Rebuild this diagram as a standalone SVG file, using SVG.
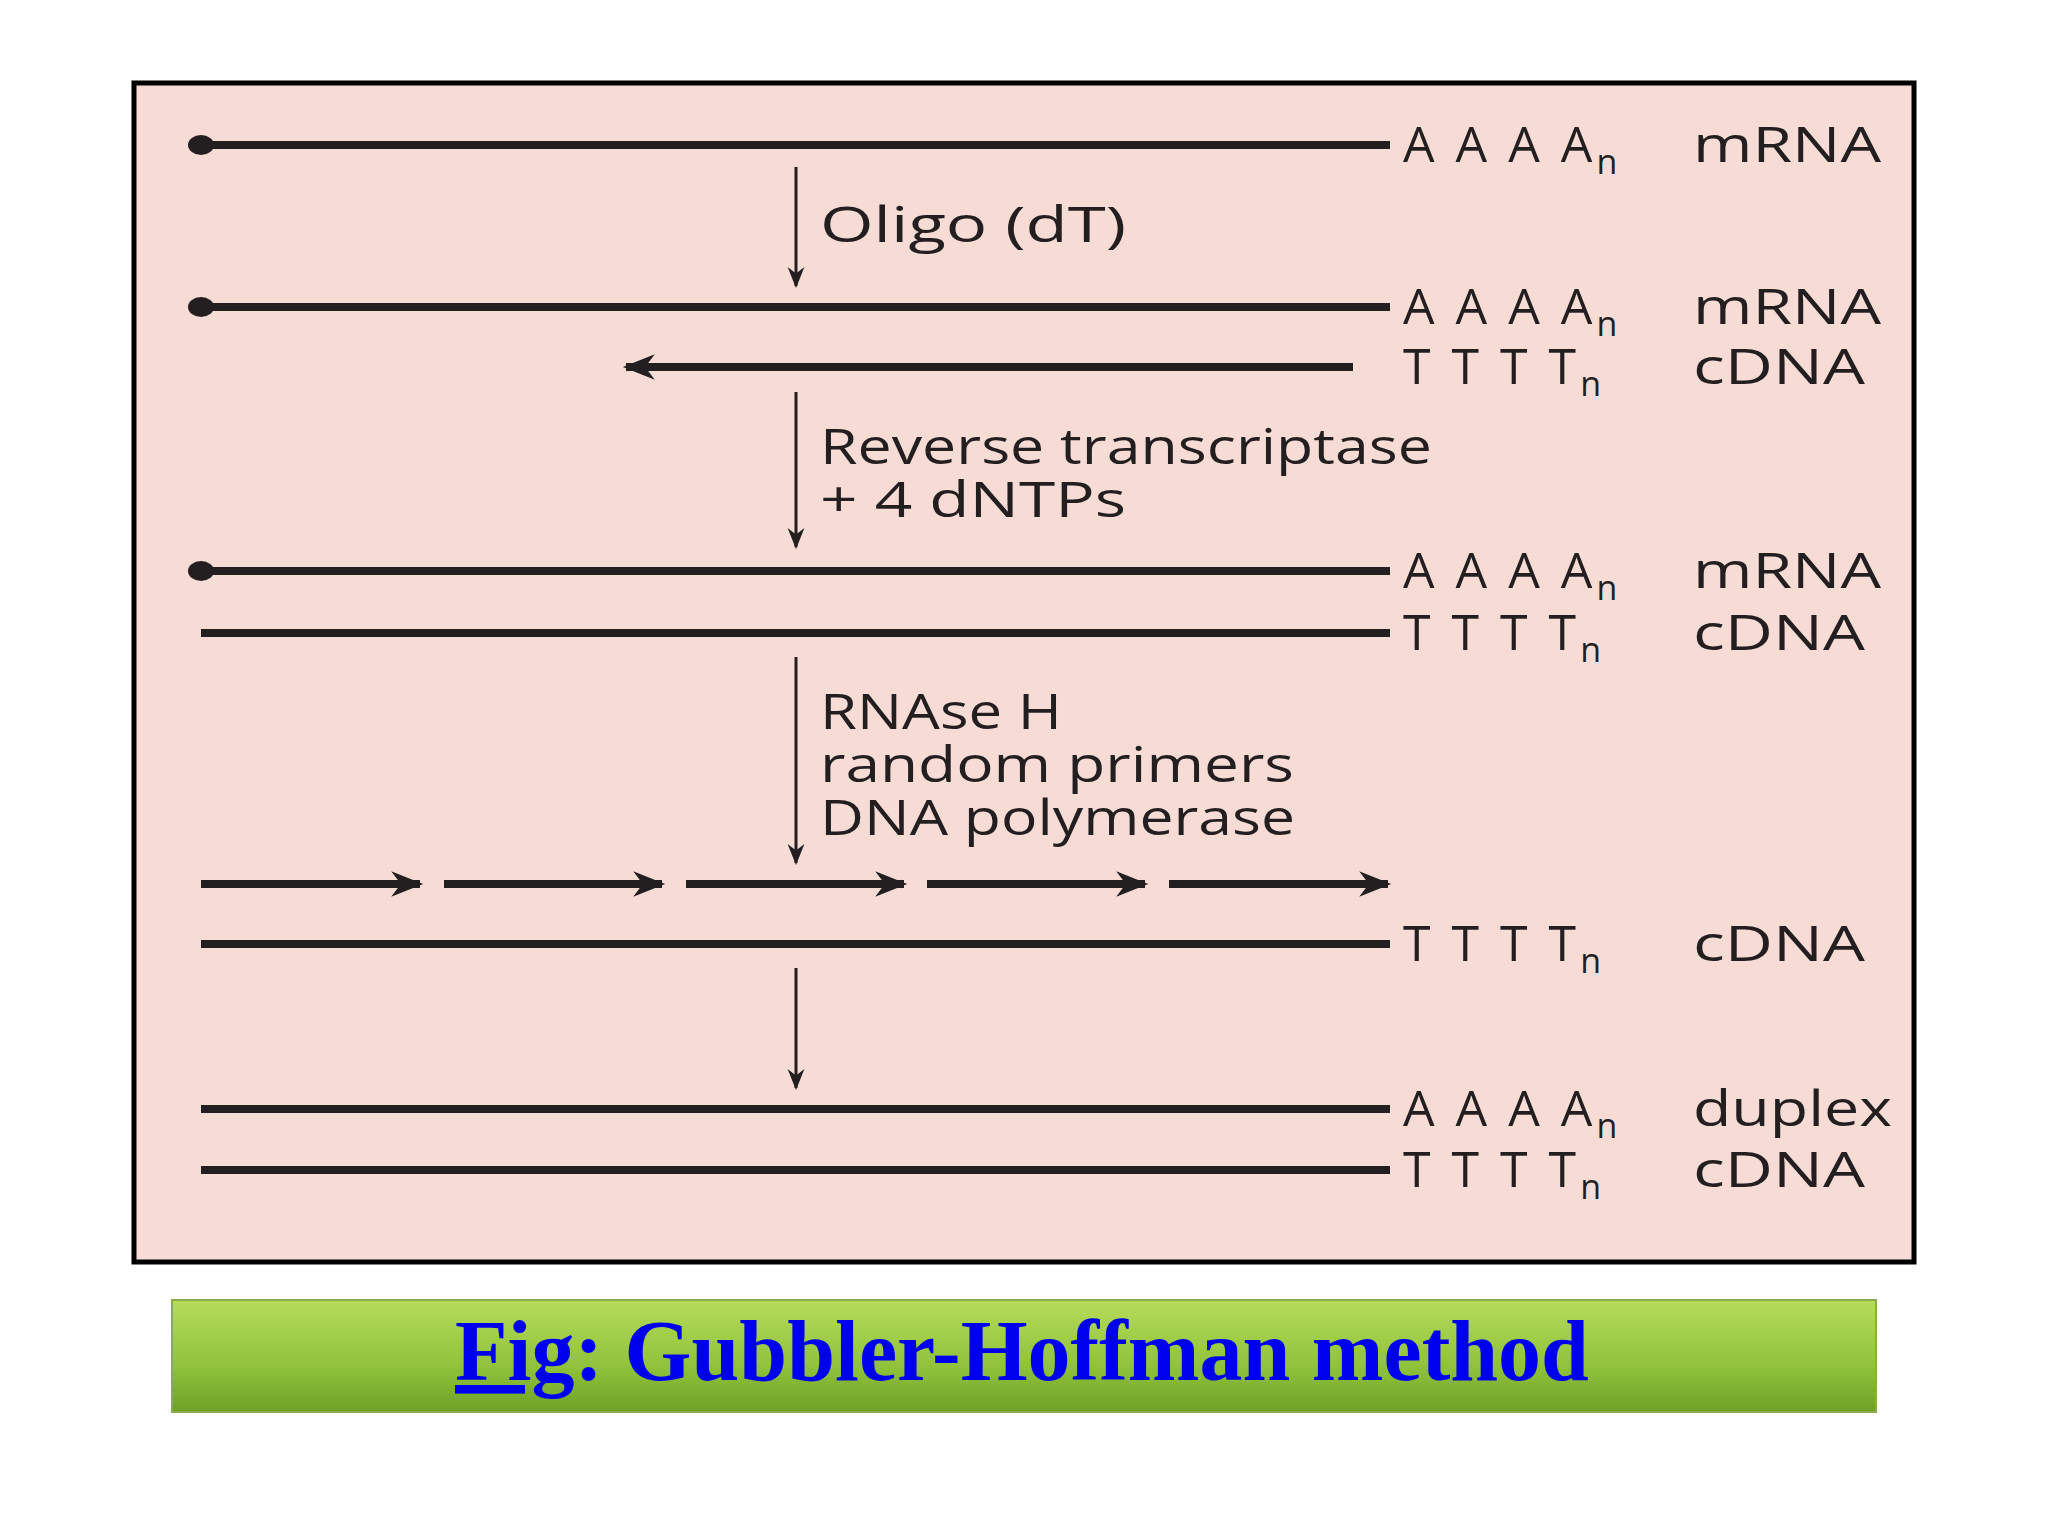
<svg xmlns="http://www.w3.org/2000/svg" width="2048" height="1536" viewBox="0 0 2048 1536">
<defs>
<marker id="ah" viewBox="0 0 10 10" refX="9" refY="5" markerWidth="5" markerHeight="4" markerUnits="strokeWidth" orient="auto"><path d="M0,1 L10,5 L0,9 L3,5 Z" fill="#231f20"/></marker>
<marker id="sa" viewBox="0 0 10 10" refX="9" refY="5" markerWidth="7" markerHeight="7" markerUnits="strokeWidth" orient="auto"><path d="M0,1 L10,5 L0,9 L3,5 Z" fill="#231f20"/></marker>
<linearGradient id="g" x1="0" y1="0" x2="0" y2="1"><stop offset="0" stop-color="#b6dc5a"/><stop offset="0.6" stop-color="#8fc23a"/><stop offset="1" stop-color="#6fa128"/></linearGradient>
</defs>
<style>
.s{stroke:#231f20;stroke-width:8;fill:none}
.v{stroke:#231f20;stroke-width:3;fill:none}
text{font-family:"Open Sans","Liberation Sans",sans-serif;fill:#231f20}
.l{font-size:50px}
.m{font-size:50px;letter-spacing:4px}
.sub{font-size:34px}
</style>
<rect width="2048" height="1536" fill="#fff"/>
<rect x="134" y="83" width="1780" height="1179" fill="#f7dcd6" stroke="#000" stroke-width="5"/>
<g id="connectors">
<line class="s" x1="201" y1="145" x2="1390" y2="145"/><ellipse cx="201" cy="145" rx="13" ry="10" fill="#231f20"/>
<line class="s" x1="201" y1="307" x2="1390" y2="307"/><ellipse cx="201" cy="307" rx="13" ry="10" fill="#231f20"/>
<line class="s" x1="1353" y1="367" x2="626" y2="367" marker-end="url(#ah)"/>
<line class="s" x1="201" y1="571" x2="1390" y2="571"/><ellipse cx="201" cy="571" rx="13" ry="10" fill="#231f20"/>
<line class="s" x1="201" y1="633" x2="1390" y2="633"/>
<line class="s" x1="201" y1="884" x2="420" y2="884" marker-end="url(#ah)"/>
<line class="s" x1="444" y1="884" x2="662" y2="884" marker-end="url(#ah)"/>
<line class="s" x1="686" y1="884" x2="904" y2="884" marker-end="url(#ah)"/>
<line class="s" x1="927" y1="884" x2="1145" y2="884" marker-end="url(#ah)"/>
<line class="s" x1="1169" y1="884" x2="1388" y2="884" marker-end="url(#ah)"/>
<line class="s" x1="201" y1="944" x2="1390" y2="944"/>
<line class="s" x1="201" y1="1109" x2="1390" y2="1109"/>
<line class="s" x1="201" y1="1170" x2="1390" y2="1170"/>
<line class="v" x1="796" y1="167" x2="796" y2="286" marker-end="url(#sa)"/>
<line class="v" x1="796" y1="392" x2="796" y2="547" marker-end="url(#sa)"/>
<line class="v" x1="796" y1="657" x2="796" y2="863" marker-end="url(#sa)"/>
<line class="v" x1="796" y1="968" x2="796" y2="1088" marker-end="url(#sa)"/>
</g>
<g id="labels">
<text class="l" x="820" y="242" textLength="306" lengthAdjust="spacingAndGlyphs">Oligo (dT)</text>
<text class="l" x="820" y="464" textLength="612" lengthAdjust="spacingAndGlyphs">Reverse transcriptase</text>
<text class="l" x="820" y="517" textLength="306" lengthAdjust="spacingAndGlyphs">+ 4 dNTPs</text>
<text class="l" x="820" y="729" textLength="242" lengthAdjust="spacingAndGlyphs">RNAse H</text>
<text class="l" x="820" y="782" textLength="474" lengthAdjust="spacingAndGlyphs">random primers</text>
<text class="l" x="820" y="835" textLength="475" lengthAdjust="spacingAndGlyphs">DNA polymerase</text>
</g>
<g id="ends">
<text class="m" x="1403" y="162">A A A A<tspan class="sub" dy="12">n</tspan></text><text class="l" x="1693" y="162" textLength="188" lengthAdjust="spacingAndGlyphs">mRNA</text>
<text class="m" x="1403" y="324">A A A A<tspan class="sub" dy="12">n</tspan></text><text class="l" x="1693" y="324" textLength="188" lengthAdjust="spacingAndGlyphs">mRNA</text>
<text class="m" x="1403" y="384">T T T T<tspan class="sub" dy="12">n</tspan></text><text class="l" x="1693" y="384" textLength="172" lengthAdjust="spacingAndGlyphs">cDNA</text>
<text class="m" x="1403" y="588">A A A A<tspan class="sub" dy="12">n</tspan></text><text class="l" x="1693" y="588" textLength="188" lengthAdjust="spacingAndGlyphs">mRNA</text>
<text class="m" x="1403" y="650">T T T T<tspan class="sub" dy="12">n</tspan></text><text class="l" x="1693" y="650" textLength="172" lengthAdjust="spacingAndGlyphs">cDNA</text>
<text class="m" x="1403" y="961">T T T T<tspan class="sub" dy="12">n</tspan></text><text class="l" x="1693" y="961" textLength="172" lengthAdjust="spacingAndGlyphs">cDNA</text>
<text class="m" x="1403" y="1126">A A A A<tspan class="sub" dy="12">n</tspan></text><text class="l" x="1693" y="1126" textLength="199" lengthAdjust="spacingAndGlyphs">duplex</text>
<text class="m" x="1403" y="1187">T T T T<tspan class="sub" dy="12">n</tspan></text><text class="l" x="1693" y="1187" textLength="172" lengthAdjust="spacingAndGlyphs">cDNA</text>
</g>
<g id="caption">
<rect x="172" y="1300" width="1704" height="112" fill="url(#g)" stroke="#8aab4a" stroke-width="2"/>
<text x="1022" y="1380" text-anchor="middle" style="font-family:'Liberation Serif',serif;font-weight:bold;font-size:86px;fill:#0000ee"><tspan text-decoration="underline">Fig</tspan>: Gubbler-Hoffman method</text>
</g>
</svg>
